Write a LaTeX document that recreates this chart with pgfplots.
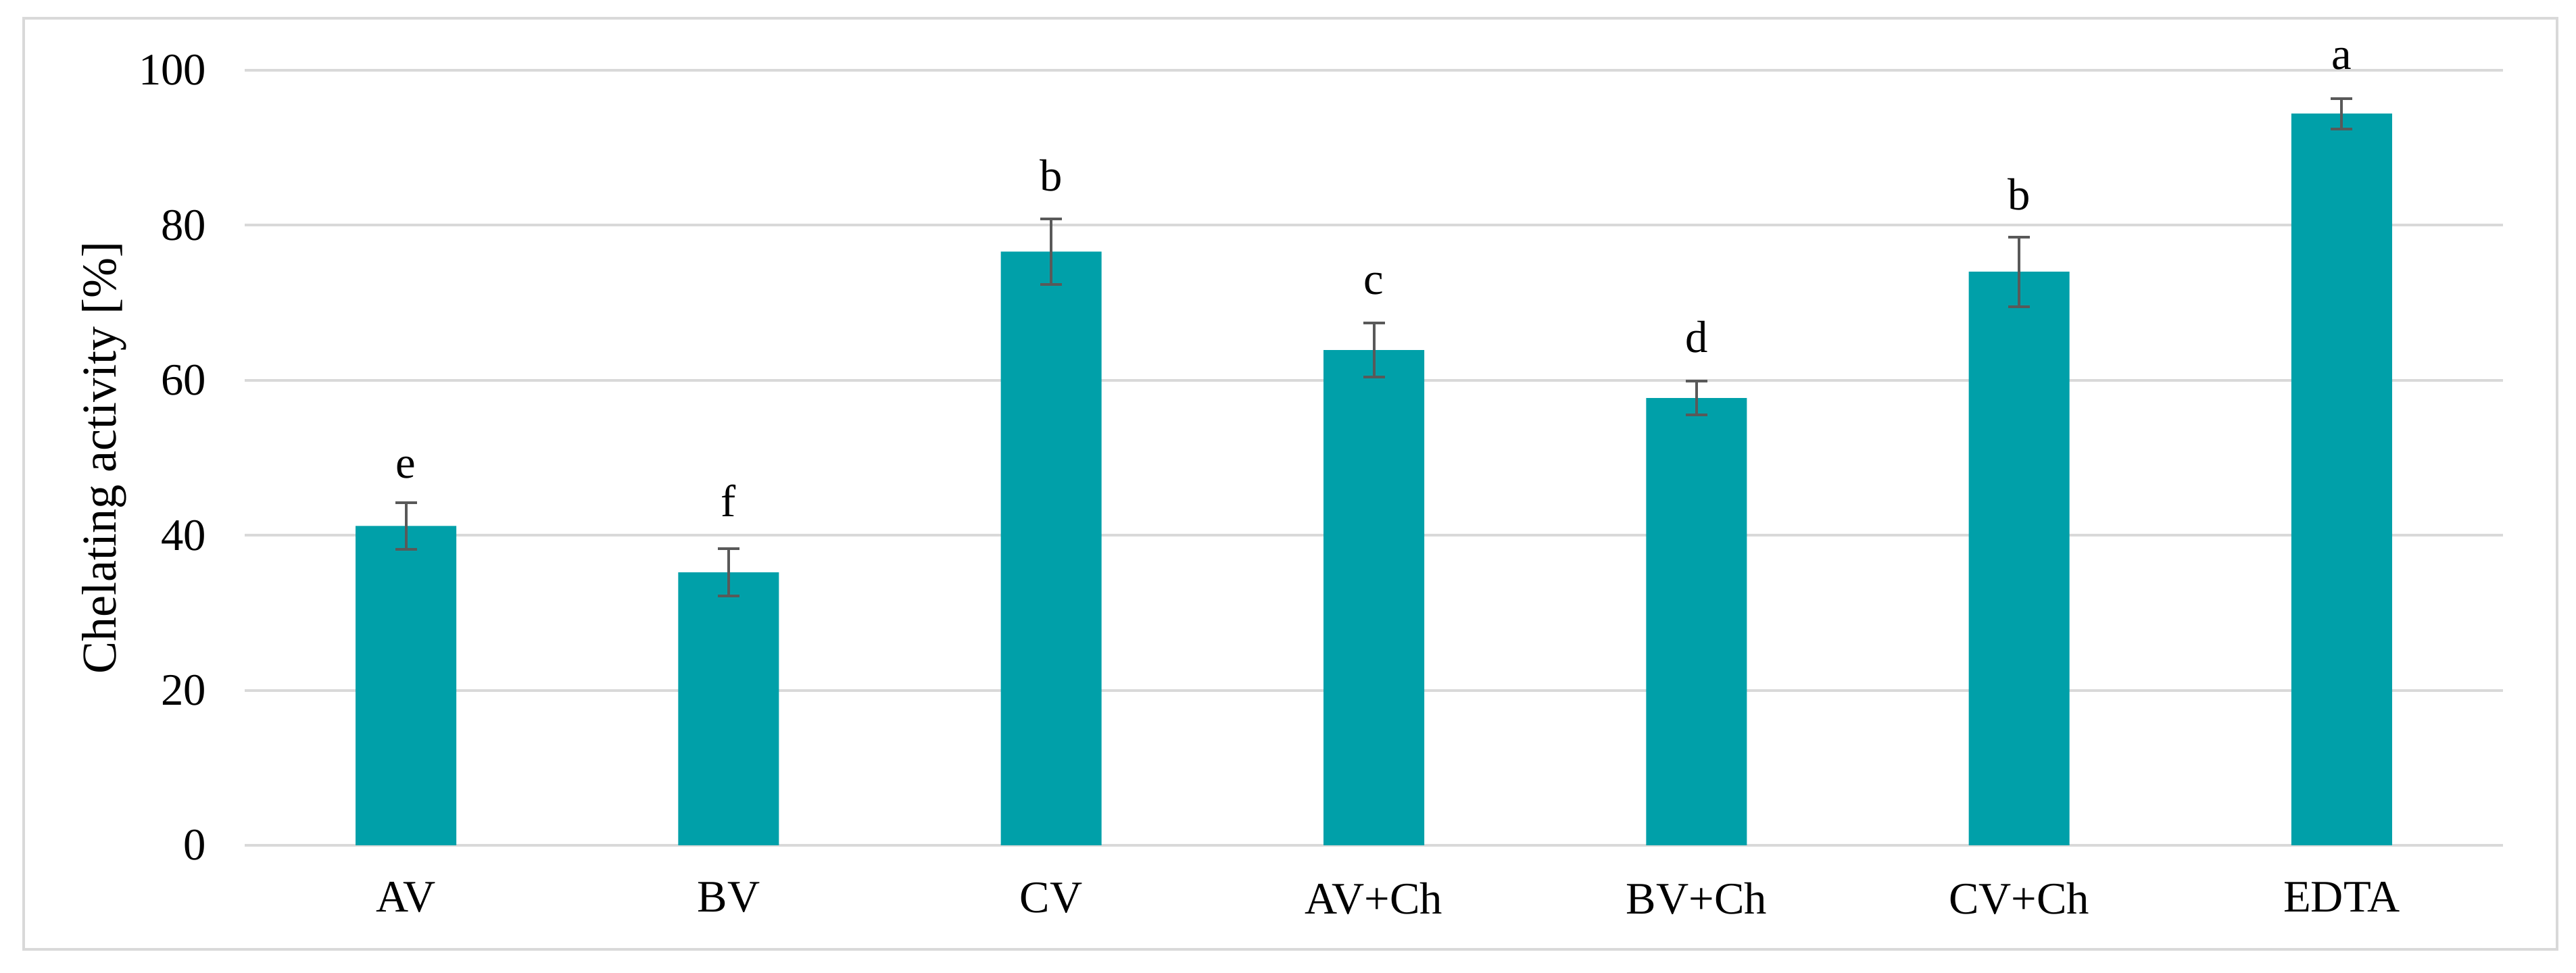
\documentclass[border=0pt]{standalone}
\usepackage{fontspec}
\setmainfont{Liberation Serif}
\usepackage{pgfplots}
\pgfplotsset{compat=1.18}
\definecolor{barTeal}{HTML}{00A0A9}
\definecolor{gridGrey}{HTML}{D9D9D9}
\definecolor{errGrey}{HTML}{595959}

\begin{document}
\begin{tikzpicture}
\useasboundingbox (0,0) rectangle (571.65pt,216pt);
\draw[gridGrey, line width=0.6pt] (5.25pt,5.25pt) rectangle (567.45pt,212pt);
\begin{axis}[
    at={(54.3pt,28.35pt)}, anchor=south west,
    scale only axis, width=501.15pt, height=172.05pt,
    xmin=-0.5, xmax=6.5, ymin=0, ymax=100,
    ytick={0,20,40,60,80,100},
    xtick={0,1,2,3,4,5,6},
    xticklabels={AV,BV,CV,AV+Ch,BV+Ch,CV+Ch,EDTA},
    axis line style={draw=none},
    major tick style={draw=none},
    ymajorgrids, grid style={gridGrey, line width=0.6pt},
    tick label style={font=\fontsize{10}{12}\selectfont, /pgf/number format/assume math mode=true},
    yticklabel style={xshift=-5pt},
    xticklabel style={yshift=-4.7pt},
    ylabel={Chelating activity [\%]},
    ylabel style={font=\fontsize{10.8}{13}\selectfont, at={(axis description cs:-0.0621,0.5)}, anchor=center},
    clip=false,
]
\addplot[ybar, bar width=22.35pt, fill=barTeal, draw=none,
    error bars/.cd, y dir=both, y explicit,
    error bar style={errGrey, line width=0.6pt},
    error mark options={errGrey, line width=0.6pt, mark size=2.4pt, rotate=90}]
  table[x=x, y=y, y error=e] {
    x y e
    0 41.2 3.0
    1 35.2 3.05
    2 76.6 4.2
    3 63.9 3.5
    4 57.7 2.15
    5 74.0 4.5
    6 94.4 1.95
  };
\node[anchor=base, font=\fontsize{10}{12}\selectfont] at (axis cs:0,47.4) {e};
\node[anchor=base, font=\fontsize{10}{12}\selectfont] at (axis cs:1,42.4) {f};
\node[anchor=base, font=\fontsize{10}{12}\selectfont] at (axis cs:2,84.4) {b};
\node[anchor=base, font=\fontsize{10}{12}\selectfont] at (axis cs:3,71.1) {c};
\node[anchor=base, font=\fontsize{10}{12}\selectfont] at (axis cs:4,63.6) {d};
\node[anchor=base, font=\fontsize{10}{12}\selectfont] at (axis cs:5,82.0) {b};
\node[anchor=base, font=\fontsize{10}{12}\selectfont] at (axis cs:6,100.1) {a};
\end{axis}
\end{tikzpicture}
\end{document}
